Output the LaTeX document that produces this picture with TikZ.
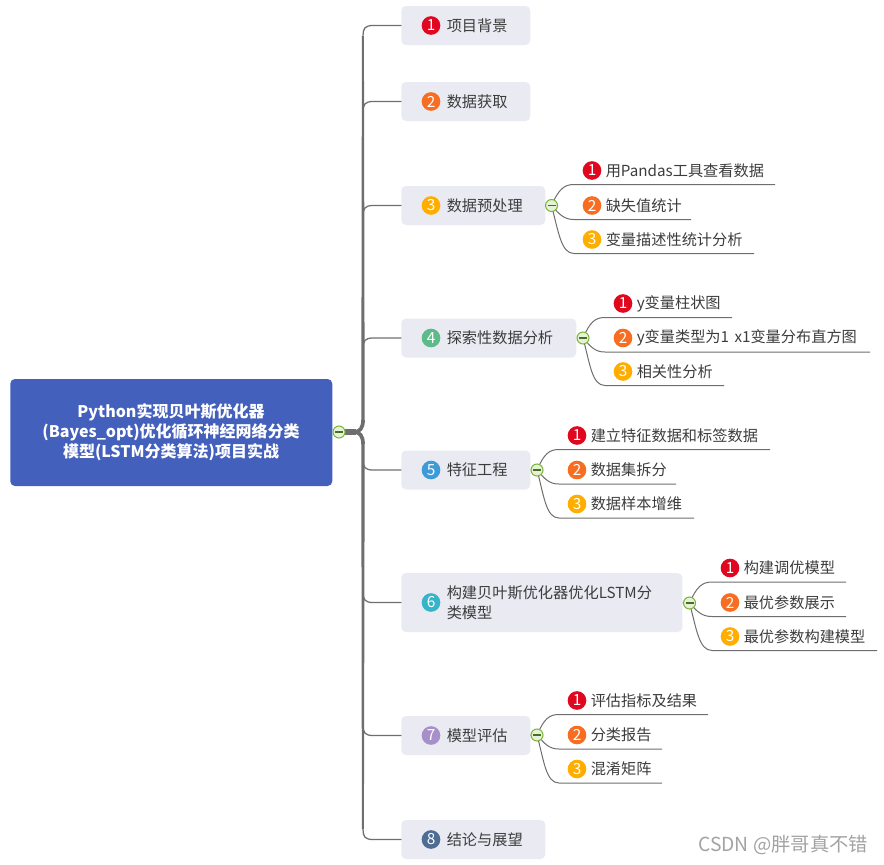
\documentclass[tikz,border=0pt]{standalone}
\usepackage{fontspec}
\setmainfont{Noto Sans CJK SC}
\usetikzlibrary{calc}
\definecolor{linegray}{HTML}{6E6E6E}
\definecolor{boxfill}{HTML}{E9EAF2}
\definecolor{txt}{HTML}{3C3C3C}
\definecolor{rootblue}{HTML}{4460BD}
\definecolor{nA}{HTML}{E0081F}
\definecolor{nB}{HTML}{F76D21}
\definecolor{nC}{HTML}{FFAE00}
\definecolor{nD}{HTML}{5DBB8A}
\definecolor{nE}{HTML}{3E9BD8}
\definecolor{nF}{HTML}{36B5C8}
\definecolor{nG}{HTML}{A78FC9}
\definecolor{nH}{HTML}{4F6D94}
\definecolor{togline}{HTML}{7CB53C}
\definecolor{togfill}{HTML}{E6F2D8}
\tikzset{
  topicbox/.style={fill=boxfill,rounded corners=3.5pt,minimum height=29.5pt,anchor=west,inner sep=0pt},
  badge/.style={circle,fill=#1,text=white,minimum size=14pt,inner sep=0pt,font=\fontsize{11.5}{12}\selectfont},
  lab/.style={anchor=west,inner sep=0pt,text=txt,font=\fontsize{11.4}{15}\selectfont},
  branch/.style={draw=linegray,line width=0.95pt,line cap=round},
  leafline/.style={draw=linegray,line width=0.75pt},
  toggle/.style={circle,draw=togline,fill=togfill,line width=0.8pt,minimum size=9pt,inner sep=0pt},
}
\newcommand{\topic}[7]{% id, num, colour, y, width, height, text
  \node[topicbox,minimum width=#5*0.75pt,minimum height=#6*0.75pt] (#1) at (401,#4) {};
  \node[badge=#3] (#1b) at (431,#4) {#2};
  \node[lab,align=left] (#1t) at (446.5,#4) {#7};
  \coordinate (#1j) at (363,#4-10);
  \coordinate (#1k) at (363,#4+10);
}
\newcommand{\togg}[3]{% id, x, y
  \coordinate (#1) at (#2,#3);
}
\newcommand{\leaf}[9]{% tog, id, num, colour, xb, yu, xend, kind, text
  \coordinate (#2a) at (#5-18,#6);
  \coordinate (#2e) at (#7,#6);
  \node[badge=#4] (#2b) at (#5,#6-14) {#3};
  \node[lab] (#2t) at (#5+13.5,#6-14) {#9};
  \draw[leafline] (#1) .. controls #8 .. (#2a) -- (#2e);
}
\def\curveup{+(7,-16) and +(-10,0)}
\def\curvemid{+(8,9) and +(-10,0)}
\def\curvedn{+(7,26) and +(-13,0)}
\newcommand{\togminus}[1]{\draw[togline!60!black,line width=0.8pt] ($(#1)+(-4,0)$) -- ($(#1)+(4,0)$);}
\begin{document}
\begin{tikzpicture}[x=0.75pt,y=-0.75pt]
\useasboundingbox (0,0) rectangle (884,864);
% trunk
\fill[linegray] (361.3,422) -- (361.9,36) -- (363.9,36) -- (364.7,422) -- cycle;
\fill[linegray] (361.3,442) -- (361.9,829) -- (363.9,829) -- (364.7,442) -- cycle;
% root
\node[fill=rootblue,rounded corners=3.5pt,minimum width=241.5pt,minimum height=80.25pt,inner sep=0pt,anchor=west] (root) at (10,432.5) {};
\node[text=white,align=center,font=\fontsize{12}{15}\selectfont\bfseries,inner sep=0pt] (roott) at (171,432) {Python实现贝叶斯优化器\\(Bayes\_opt)优化循环神经网络分类\\模型(LSTM分类算法)项目实战};
\coordinate (rtog) at (339,432);
\coordinate (rj) at (356,432);
\draw[linegray,line width=3.8pt] (root.east |- rj) -- (rj);
\draw[linegray,line width=2.8pt] (354,432) .. controls (360,432) and (363,428) .. (363,420);
\draw[linegray,line width=2.8pt] (354,432) .. controls (360,432) and (363,436) .. (363,444);
% topics
\topic{A}{1}{nA}{25.5}{129}{39}{项目背景}
\topic{B}{2}{nB}{101.5}{129}{39}{数据获取}
\topic{C}{3}{nC}{205.5}{144}{39}{数据预处理}
\topic{D}{4}{nD}{338}{175}{39}{探索性数据分析}
\topic{E}{5}{nE}{470}{129}{39}{特征工程}
\topic{F}{6}{nF}{602.5}{281}{59}{构建贝叶斯优化器优化LSTM分\\类模型}
\topic{G}{7}{nG}{735.5}{129}{39}{模型评估}
\topic{H}{8}{nH}{839.5}{144}{39}{结论与展望}
% branches
\foreach \t in {A,B,C,D}{
  \draw[branch] (\t.west) -- ($(\t.west)+(-28,0)$) .. controls ($(\t.west)+(-36,0)$) and ($(\t.west)+(-38,3)$) .. (\t k);
}
\foreach \t in {E,F,G,H}{
  \draw[branch] (\t.west) -- ($(\t.west)+(-28,0)$) .. controls ($(\t.west)+(-36,0)$) and ($(\t.west)+(-38,-3)$) .. (\t j);
}
% toggles positions
\togg{Ct}{551.5}{205.5}
\togg{Dt}{583}{338}
\togg{Et}{537}{470}
\togg{Ft}{689.5}{603}
\togg{Gt}{537}{735}
\draw[leafline] (C.east) -- (Ct);
\draw[leafline] (D.east) -- (Dt);
\draw[leafline] (E.east) -- (Et);
\draw[leafline] (F.east) -- (Ft);
\draw[leafline] (G.east) -- (Gt);
% leaves
\leaf{Ct}{Ca}{1}{nA}{592}{184.5}{775}{\curveup}{用Pandas工具查看数据}
\leaf{Ct}{Cb}{2}{nB}{592}{219.5}{691}{\curvemid}{缺失值统计}
\leaf{Ct}{Cc}{3}{nC}{592}{253.5}{754}{\curvedn}{变量描述性统计分析}
\leaf{Dt}{Da}{1}{nA}{623}{317.5}{732}{\curveup}{y变量柱状图}
\leaf{Dt}{Db}{2}{nB}{623}{352}{870}{\curvemid}{y变量类型为1\ \kern1.5pt x1变量分布直方图}
\leaf{Dt}{Dc}{3}{nC}{623}{385.5}{724}{\curvedn}{相关性分析}
\leaf{Et}{Ea}{1}{nA}{577}{449.5}{770}{\curveup}{建立特征数据和标签数据}
\leaf{Et}{Eb}{2}{nB}{577}{484}{676}{\curvemid}{数据集拆分}
\leaf{Et}{Ec}{3}{nC}{577}{518}{694}{\curvedn}{数据样本增维}
\leaf{Ft}{Fa}{1}{nA}{730}{582}{846}{\curveup}{构建调优模型}
\leaf{Ft}{Fb}{2}{nB}{730}{616.5}{846}{\curvemid}{最优参数展示}
\leaf{Ft}{Fc}{3}{nC}{730}{650.5}{877}{\curvedn}{最优参数构建模型}
\leaf{Gt}{Ga}{1}{nA}{577}{714.5}{708}{\curveup}{评估指标及结果}
\leaf{Gt}{Gb}{2}{nB}{577}{749}{662}{\curvemid}{分类报告}
\leaf{Gt}{Gc}{3}{nC}{577}{783}{662}{\curvedn}{混淆矩阵}
% toggles on top
\foreach \t in {rtog,Ct,Dt,Et,Ft,Gt}{
  \node[toggle] at (\t) {};
  \togminus{\t}
}
% watermark
\node[anchor=west,inner sep=0pt,text=black!36,font=\fontsize{14.5}{15}\selectfont] (wm) at (698,845) {CSDN @胖哥真不错};
\end{tikzpicture}
\end{document}
